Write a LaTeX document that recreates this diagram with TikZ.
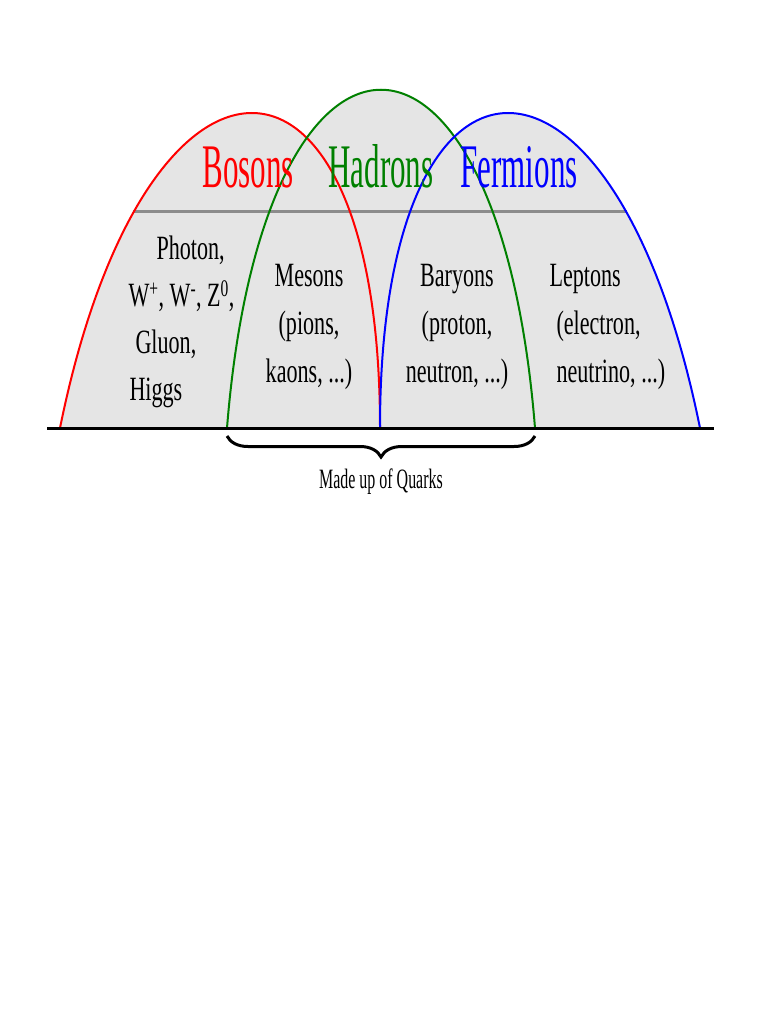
\documentclass[tikz,border=0pt]{standalone}
\usepackage{fontspec}
\setmainfont{Liberation Serif}
\newfontfamily\titlefont[FakeStretch=0.5]{Liberation Serif}
\newfontfamily\bodyfont[FakeStretch=0.65]{Liberation Serif}
\newfontfamily\notefont[FakeStretch=0.57]{Liberation Serif}
\usetikzlibrary{decorations.pathreplacing}
\definecolor{hadrongreen}{RGB}{0,128,0}

\begin{document}
\begin{tikzpicture}[
    x = 1pt, y = -1pt,
    arch/.style = {line width = 2pt},
    family/.style = {font = \titlefont\fontsize{62}{62}\selectfont,
      anchor = base},
    member/.style = {font = \bodyfont\fontsize{34}{48}\selectfont,
      anchor = base, align = center},
    note/.style = {font = \notefont\fontsize{28}{28}\selectfont,
      anchor = base}
    ]

    \useasboundingbox (0, 0) rectangle (768, 1024);

    % feet of the arches on the ground line
    \coordinate (boson foot) at (60, 428);
    \coordinate (hadron foot) at (227, 428);
    \coordinate (middle foot) at (380, 428);
    \coordinate (hadron end) at (535, 428);
    \coordinate (fermion end) at (700, 428);

    \fill [gray!20] (boson foot) .. controls (145, 8) and (380, 8) .. (middle foot) -- cycle;
    \fill [gray!20] (hadron foot) .. controls (263, -23) and (499, -23) .. (hadron end) -- cycle;
    \fill [gray!20] (middle foot) .. controls (380, 8) and (615, 8) .. (fermion end) -- cycle;

    \coordinate (shelf left) at (133, 212);
    \coordinate (shelf right) at (627, 212);
    \draw [line width = 3pt, gray!90] (shelf left) -- (shelf right);

    \draw [arch, red] (boson foot) .. controls (145, 8) and (380, 8) .. (middle foot);
    \draw [arch, hadrongreen] (hadron foot) .. controls (263, -23) and (499, -23) .. (hadron end);
    \draw [arch, blue] (middle foot) .. controls (380, 8) and (615, 8) .. (fermion end);

    \coordinate (ground left) at (47, 428);
    \coordinate (ground right) at (714, 428);
    \draw [line width = 3pt] (ground left) -- (ground right);

    \node at (248, 188) [family, red, name = bosons] {Bosons};
    \node at (381, 188) [family, hadrongreen, name = hadrons] {Hadrons};
    \node at (519, 188) [family, blue, name = fermions] {Fermions};

    % the base of a node of several lines is its last line
    \node at (125, 400) [member, font = \bodyfont\fontsize{34}{47}\selectfont,
      anchor = base west, align = left, name = gauge]
    {\hspace{28pt}Photon,\\
      W\textsuperscript{+}, W\textsuperscript{-}, Z\textsuperscript{0},\\
      \hspace{7pt}Gluon,\\
      \hspace{1pt}Higgs};
    \node at (309, 382) [member, name = mesons] {Mesons\\ (pions,\\ kaons, ...)};
    \node at (457, 382) [member, name = baryons] {Baryons\\ (proton,\\ neutron, ...)};
    \node at (546, 382) [member, anchor = base west, align = left, name = leptons]
    {Leptons\\ \hspace{7pt}(electron,\\ \hspace{7pt}neutrino, ...)};

    \coordinate (brace left) at (227, 436);
    \coordinate (brace right) at (535, 436);
    \draw [decorate, decoration = {brace, mirror, amplitude = 21pt}, line width = 3pt]
    (brace left) -- (brace right);
    \node at (381, 488) [note, name = quarks] {Made up of Quarks};
  \end{tikzpicture}
\end{document}
